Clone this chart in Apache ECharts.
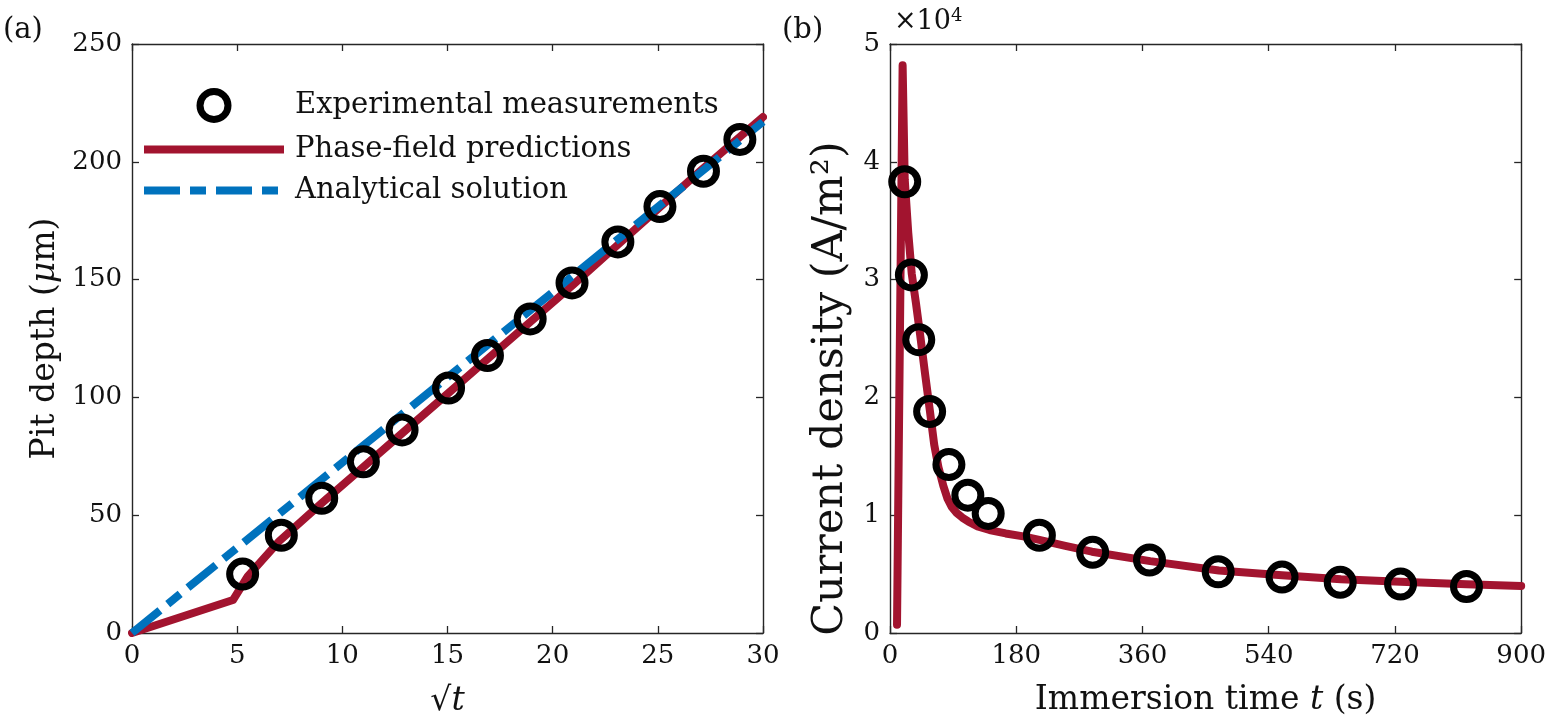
<!DOCTYPE html>
<html>
<head>
<meta charset="utf-8">
<script src="https://cdn.jsdelivr.net/npm/echarts@6/dist/echarts.min.js"></script>
<style>
  html, body { margin: 0; padding: 0; background: #fff; }
  #main { width: 1549px; height: 727px; }
</style>
</head>
<body>
<div id="main"></div>
<script>
// (a) pit depth vs sqrt(t)
var sqrtTExp = [5.26, 7.1, 9.02, 11.0, 12.84, 15.05, 16.9, 18.93, 20.92, 23.1, 25.1, 27.17, 28.9];
var depthExp = [25.0, 41.5, 57.2, 72.7, 86.2, 104, 117.8, 133.3, 148.6, 166, 181, 196, 209.5];
var sqrtTSim = [0, 4.8, 5.5, 7, 9, 11, 13, 15, 17, 19, 21, 23, 25, 27, 30];
var depthSim = [0, 14, 24, 39, 55, 70.5, 86, 101.5, 117, 132.5, 148, 164, 180, 196, 219];
var sqrtTAna = [0, 30];
var depthAna = [0, 217];

// (b) current density vs immersion time
var timeExp = [21, 30.5, 41, 56.5, 84, 111, 140, 213, 289, 370, 468, 559, 642, 728, 822];
var currentExp = [38300, 30400, 24900, 18800, 14300, 11700, 10150, 8300, 6850, 6200, 5200, 4750, 4300, 4150, 3950];
var timeSim = [10, 18, 21, 26, 31, 37, 43, 50, 57, 63, 69, 76, 82, 88, 95, 103, 112, 125, 142, 165, 190, 213, 250, 288, 371, 469, 559, 643, 728, 822, 900];
var currentSim = [700, 48200, 38500, 34000, 30500, 28000, 25300, 22000, 18800, 16000, 14100, 12500, 11400, 10700, 10200, 9800, 9450, 9050, 8740, 8450, 8200, 7900, 7400, 6900, 6100, 5300, 4900, 4560, 4350, 4130, 4000];

var xTicksA = [0, 5, 10, 15, 20, 25, 30];
var yTicksA = [0, 50, 100, 150, 200, 250];
var xTicksB = [0, 180, 360, 540, 720, 900];
var yTicksB = [0, 1, 2, 3, 4, 5];

var FONT = 'DejaVu Serif';
var AXIS_COLOR = '#262626';
var RED = '#A2142F';
var BLUE = '#0072BD';

function pairs(xs, ys) {
  var out = [];
  for (var i = 0; i < xs.length; i++) out.push([xs[i], ys[i]]);
  return out;
}

function axis(opts) {
  var base = {
    type: 'value',
    axisLine: { show: true, onZero: false, lineStyle: { color: AXIS_COLOR, width: 1.4 } },
    axisTick: { show: true, inside: true, length: 7, lineStyle: { color: AXIS_COLOR, width: 1.3 } },
    splitLine: { show: false },
    axisLabel: { show: true, color: '#111', fontFamily: FONT, fontSize: 26, margin: 10 },
    nameTextStyle: { color: '#111', fontFamily: FONT, fontSize: 33 }
  };
  return Object.assign(base, opts);
}

function italicName(size) {
  return { color: '#111', fontFamily: FONT, fontSize: size,
    rich: { i: { fontFamily: FONT, fontSize: size, fontStyle: 'italic', color: '#111' } } };
}

var chart = echarts.init(document.getElementById('main'));

var option = {
  animation: false,
  backgroundColor: '#fff',
  grid: [
    { left: 132, top: 44, width: 631, height: 589 },
    { left: 890, top: 44, width: 633, height: 589 }
  ],
  legend: {
    left: 140,
    top: 88,
    orient: 'vertical',
    padding: 0,
    itemWidth: 140,
    itemHeight: 28,
    itemGap: 12,
    textStyle: { fontFamily: FONT, fontSize: 29, color: '#111', padding: [0, 0, 0, 6] },
    data: [
      { name: 'Experimental measurements', itemStyle: { borderWidth: 7, borderColor: '#000', color: 'rgba(255,255,255,0)' } },
      { name: 'Phase-field predictions', itemStyle: { opacity: 0 }, lineStyle: { width: 8, color: RED, cap: 'butt' } },
      { name: 'Analytical solution', itemStyle: { opacity: 0 }, lineStyle: { width: 8, color: BLUE, type: [36, 10, 16, 10], cap: 'butt' } }
    ]
  },
  xAxis: [
    axis({
      gridIndex: 0, position: 'bottom', min: xTicksA[0], max: xTicksA[xTicksA.length - 1], interval: 5,
      name: '√{i|t}', nameLocation: 'middle', nameGap: 52, nameTextStyle: italicName(33)
    }),
    axis({ gridIndex: 0, position: 'top', min: 0, max: 30, interval: 5, axisLabel: { show: false } }),
    axis({
      gridIndex: 1, position: 'bottom', min: xTicksB[0], max: xTicksB[xTicksB.length - 1], interval: 180,
      name: 'Immersion time {i|t} (s)', nameLocation: 'middle', nameGap: 51, nameTextStyle: italicName(33)
    }),
    axis({ gridIndex: 1, position: 'top', min: 0, max: 900, interval: 180, axisLabel: { show: false } })
  ],
  yAxis: [
    axis({
      gridIndex: 0, position: 'left', min: yTicksA[0], max: yTicksA[yTicksA.length - 1], interval: 50,
      name: 'Pit depth ({i|μ}m)', nameLocation: 'middle', nameGap: 70, nameTextStyle: italicName(33)
    }),
    axis({ gridIndex: 0, position: 'right', min: 0, max: 250, interval: 50, axisLabel: { show: false } }),
    axis({
      gridIndex: 1, position: 'left', min: yTicksB[0] * 1e4, max: yTicksB[yTicksB.length - 1] * 1e4, interval: 1e4,
      axisLabel: { color: '#111', fontFamily: FONT, fontSize: 26, margin: 10,
        formatter: function (v) { return String(v / 1e4); } },
      name: 'Current density (A/m²)', nameLocation: 'middle', nameGap: 38,
      nameTextStyle: { color: '#111', fontFamily: FONT, fontSize: 43, padding: [0, 100, 0, 0] }
    }),
    axis({ gridIndex: 1, position: 'right', min: 0, max: 50000, interval: 10000, axisLabel: { show: false } })
  ],
  graphic: [
    { type: 'text', left: 3, top: 16, style: { text: '(a)', font: '29px "' + FONT + '"', fill: '#111' } },
    { type: 'text', left: 782, top: 16, style: { text: '(b)', font: '29px "' + FONT + '"', fill: '#111' } },
    { type: 'text', left: 894, top: 7, style: {
        text: '{a|×10}{s|4}',
        rich: {
          a: { fontFamily: FONT, fontSize: 27, fill: '#111', color: '#111' },
          s: { fontFamily: FONT, fontSize: 18, fill: '#111', color: '#111', verticalAlign: 'top', padding: [0, 0, 12, 0] }
        } } }
  ],
  series: [
    {
      name: 'Phase-field predictions', type: 'line', xAxisIndex: 0, yAxisIndex: 0,
      data: pairs(sqrtTSim, depthSim), symbol: 'none', z: 2,
      lineStyle: { color: RED, width: 8, cap: 'round', join: 'round' },
      itemStyle: { color: RED }
    },
    {
      name: 'Analytical solution', type: 'line', xAxisIndex: 0, yAxisIndex: 0,
      data: pairs(sqrtTAna, depthAna), symbol: 'none', z: 3,
      lineStyle: { color: BLUE, width: 8, type: [36, 10, 16, 10], cap: 'butt' },
      itemStyle: { color: BLUE }
    },
    {
      name: 'Experimental measurements', type: 'scatter', xAxisIndex: 0, yAxisIndex: 0,
      data: pairs(sqrtTExp, depthExp), symbol: 'circle', symbolSize: 26, z: 4,
      itemStyle: { color: 'rgba(255,255,255,0)', borderColor: '#000', borderWidth: 7, opacity: 1 }
    },
    {
      name: 'Phase-field predictions', type: 'line', xAxisIndex: 2, yAxisIndex: 2,
      data: pairs(timeSim, currentSim), symbol: 'none', z: 2,
      lineStyle: { color: RED, width: 8, cap: 'round', join: 'round' },
      itemStyle: { color: RED }
    },
    {
      name: 'Experimental measurements', type: 'scatter', xAxisIndex: 2, yAxisIndex: 2,
      data: pairs(timeExp, currentExp), symbol: 'circle', symbolSize: 26, z: 4,
      itemStyle: { color: 'rgba(255,255,255,0)', borderColor: '#000', borderWidth: 7, opacity: 1 }
    }
  ]
};

chart.setOption(option);
</script>
</body>
</html>
